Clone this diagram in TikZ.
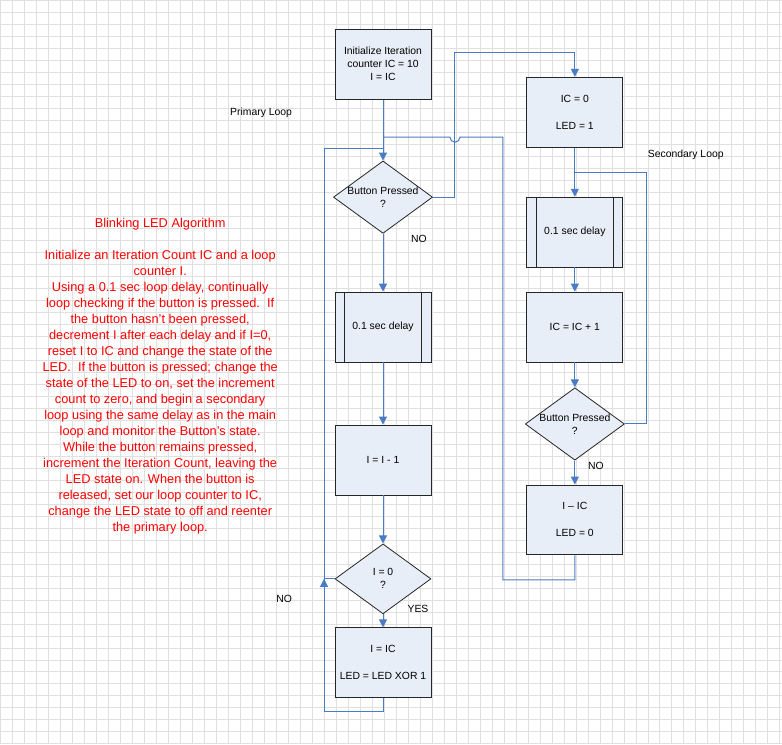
\documentclass[tikz,border=0pt]{standalone}
\usepackage{fontspec}
\setmainfont{Liberation Sans}
\usetikzlibrary{shapes.geometric,arrows.meta}
\definecolor{boxfill}{HTML}{E8EEF8}
\definecolor{flowblue}{HTML}{4A7CC4}
\begin{document}
\begin{tikzpicture}[x=0.5pt,y=-0.5pt,
  font=\fontsize{5.2}{6.5}\selectfont,
  process/.style={draw=black!85, fill=boxfill, minimum width=48pt, minimum height=35pt, inner sep=0pt, align=center},
  decision/.style={diamond, draw=black!85, fill=boxfill, minimum width=48pt, minimum height=35pt, aspect=1.37, inner sep=0pt, align=center},
  flow/.style={draw=flowblue, line width=0.5pt},
  tip/.style={flow, -{Triangle[length=4pt,width=4pt]}},
  lbl/.style={font=\fontsize{5.2}{6.5}\selectfont}]

% Background and grid
\fill[white] (0,0) rectangle (782,744);
\draw[black!12, line width=0.3pt, xstep=6pt, ystep=6pt] (0,0) grid (782,744);
\useasboundingbox (0,0) rectangle (782,744);

% Primary loop
\node[process] (init) at (383,64) {Initialize Iteration\\counter IC = 10\\I = IC};
\node[decision] (press) at (383,197) {Button Pressed\\?};
\node[process] (delay) at (383,327) {0.1 sec delay};
\draw[black!85] ([xshift=5pt]delay.north west) -- ([xshift=5pt]delay.south west)
  ([xshift=-5pt]delay.north east) -- ([xshift=-5pt]delay.south east);
\node[process] (dec) at (383,460) {I = I - 1};
\node[decision] (zero) at (383,579) {I = 0\\?};
\node[process] (reset) at (383,663) {I = IC\\[7pt]LED = LED XOR 1};

% Secondary loop
\node[process] (led) at (575,112) {IC = 0\\[7pt]LED = 1};
\node[process] (delaytwo) at (575,232) {0.1 sec delay};
\draw[black!85] ([xshift=5pt]delaytwo.north west) -- ([xshift=5pt]delaytwo.south west)
  ([xshift=-5pt]delaytwo.north east) -- ([xshift=-5pt]delaytwo.south east);
\node[process] (inc) at (575,327) {IC = IC + 1};
\node[decision] (presstwo) at (575,424) {Button Pressed\\?};
\node[process] (back) at (575,520) {I -- IC\\[7pt]LED = 0};

\coordinate (join) at (383,148);
\coordinate (rejoin) at (383,137);

% Connectors
\draw[tip] (init) -- (press);
\draw[tip] (press) -- (delay);
\draw[tip] (delay) -- (dec);
\draw[tip] (dec) -- (zero);
\draw[tip] (zero) -- (reset);
\draw[flow] (reset.south) -- (383,712) -- (324,712) -- (324,148) -- (join);
\draw[tip] (324,600) -- (324,579);
\draw[flow] (zero.west) -- (324,579);
\draw[flow] (press.east) -- (455,197) -- (455,52) -- (575,52);
\draw[tip] (575,52) -- (led.north);
\draw[tip] (led) -- (delaytwo);
\draw[tip] (delaytwo) -- (inc);
\draw[tip] (inc) -- (presstwo);
\draw[tip] (presstwo) -- (back);
\draw[flow] (presstwo.east) -- (647,424) -- (647,172) -- (575,172);
\draw[flow] (back.south) -- (575,580) -- (503,580) -- (503,137) -- (460,137)
  arc[start angle=0, end angle=180, radius=5] -- (rejoin);

% Labels
\node[lbl] at (261,113) {Primary Loop};
\node[lbl] at (686,155) {Secondary Loop};
\node[lbl] at (419,239) {NO};
\node[lbl] at (596,466) {NO};
\node[lbl] at (418,609) {YES};
\node[lbl] at (284,599) {NO};

% Description
\node[text=red, align=center, font=\fontsize{6.4}{8}\selectfont] at (160,376)
  {Blinking LED Algorithm\\[8pt]
  Initialize an Iteration Count IC and a loop\\
  counter I.\\
  Using a 0.1 sec loop delay, continually\\
  loop checking if the button is pressed.\ \ If\\
  the button hasn't been pressed,\\
  decrement I after each delay and if I=0,\\
  reset I to IC and change the state of the\\
  LED.\ \ If the button is pressed; change the\\
  state of the LED to on, set the increment\\
  count to zero, and begin a secondary\\
  loop using the same delay as in the main\\
  loop and monitor the Button's state.\\
  While the button remains pressed,\\
  increment the Iteration Count, leaving the\\
  LED state on. When the button is\\
  released, set our loop counter to IC,\\
  change the LED state to off and reenter\\
  the primary loop.};
\end{tikzpicture}
\end{document}
